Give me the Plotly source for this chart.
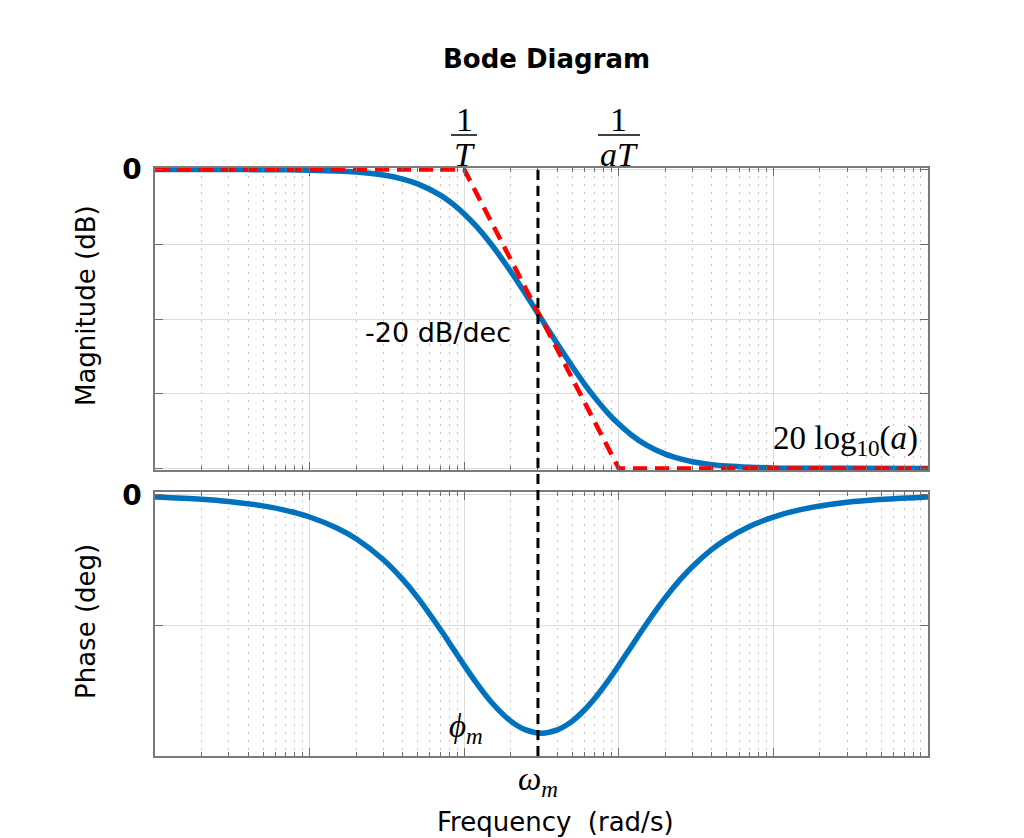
import numpy as np
import plotly.graph_objects as go

# (lag compensator, T = 1, a = 0.1)
freq = [0.01, 0.02, 0.03, 0.05, 0.07, 0.1, 0.15, 0.2, 0.3, 0.4, 0.5, 0.7, 0.85,
        1, 1.2, 1.5, 2, 2.5, 3.16, 4, 5, 6, 7, 8.5, 10, 12, 15, 20, 25, 30, 40,
        50, 70, 100, 150, 300, 1000]
mag_db = [0.0, -0.002, -0.004, -0.011, -0.021, -0.043, -0.096, -0.17, -0.37,
          -0.64, -0.96, -1.71, -2.33, -2.97, -3.81, -5.02, -6.82, -8.34, -10.0,
          -11.66, -13.18, -14.35, -15.26, -16.29, -17.03, -17.74, -18.42, -19.04,
          -19.36, -19.55, -19.74, -19.83, -19.91, -19.96, -19.98, -19.99, -20.0]
phase_deg = [-0.52, -1.03, -1.55, -2.58, -3.6, -5.14, -7.67, -10.16, -14.98,
             -19.51, -23.7, -30.99, -35.5, -39.29, -43.35, -47.78, -52.13, -54.16,
             -54.9, -54.16, -52.13, -49.58, -46.88, -42.93, -39.29, -35.05, -29.88,
             -23.71, -19.51, -16.52, -12.61, -10.16, -7.31, -5.14, -3.43, -1.72,
             -0.52]

asym_freq = [0.01, 1, 10, 1000]
asym_db = [0, 0, -20, -20]

w_m = 3.0
corner_T = 1
corner_aT = 10

mag_ticks = [0, -5, -10, -15, -20]
phase_ticks = [0, -30, -60]

blue = '#0072BD'
W, H = 1024, 838
L, R, TOP, BOT = 155, 96, 168, 82


def py(p):
    # pixel row -> paper y
    return (H - BOT - p) / (H - TOP - BOT)


def px(p):
    return (p - L) / (W - L - R)


fig = go.Figure()
fig.add_trace(go.Scatter(x=freq, y=mag_db, mode='lines', line_shape='spline',
                         line=dict(color=blue, width=5.5), xaxis='x', yaxis='y'))
fig.add_trace(go.Scatter(x=asym_freq, y=asym_db, mode='lines',
                         line=dict(color='#FF0000', width=4.5, dash='14px,8px'),
                         xaxis='x', yaxis='y'))
fig.add_trace(go.Scatter(x=freq, y=phase_deg, mode='lines', line_shape='spline',
                         line=dict(color=blue, width=5.5), xaxis='x2', yaxis='y2'))

xcommon = dict(type='log', range=[-2, 3], dtick=1, tick0=0, showticklabels=False,
               ticks='inside', ticklen=8, tickcolor='#6e6e6e',
               showline=True, linecolor='#7a7a7a', linewidth=1.5, mirror='ticks',
               showgrid=True, gridcolor='#dcdcdc', gridwidth=1, zeroline=False,
               minor=dict(dtick='D1', ticks='inside', ticklen=4, tickcolor='#6e6e6e',
                          showgrid=True, gridcolor='#c4c4c4', griddash='2px,6px',
                          gridwidth=1))
ycommon = dict(tickmode='array', ticks='inside', ticklen=8, tickcolor='#6e6e6e',
               showline=True, linecolor='#7a7a7a', linewidth=1.5, mirror='ticks',
               showgrid=True, gridcolor='#dcdcdc', gridwidth=1, zeroline=False,
               ticklabelstandoff=6,
               tickfont=dict(family='DejaVu Sans', size=28, color='black'))

top_dom = [py(470), 1]
bot_dom = [0, py(492)]

fig.update_layout(
    width=W, height=H, showlegend=False,
    margin=dict(l=L, r=R, t=TOP, b=BOT),
    paper_bgcolor='white', plot_bgcolor='white',
    xaxis=dict(xcommon, anchor='y'),
    xaxis2=dict(xcommon, anchor='y2'),
    yaxis=dict(ycommon, domain=top_dom, range=[-20.1, 0.1], tickvals=mag_ticks,
               ticktext=['<b>0</b>'] + [' '] * (len(mag_ticks) - 1)),
    yaxis2=dict(ycommon, domain=bot_dom, range=[-60.16, 0.62], tickvals=phase_ticks,
                ticktext=['<b>0</b>'] + [' '] * (len(phase_ticks) - 1)),
)

# vertical line at the frequency of max phase lag (shape x takes raw value here)
fig.add_shape(type='line', xref='x', yref='paper', x0=w_m, x1=w_m,
              y0=0, y1=1, line=dict(color='black', width=3, dash='10px,6px'))

sans = dict(family='DejaVu Sans', color='black')
serif = dict(family='Liberation Serif', color='black')


def note(text, x, y, font, size, xref='paper', angle=0):
    fig.add_annotation(text=text, x=x, y=y, xref=xref, yref='paper', showarrow=False,
                       font=dict(font, size=size), textangle=angle,
                       xanchor='center', yanchor='middle')


note('<b>Bode Diagram</b>', px(546), py(59), sans, 26)
note('Magnitude (dB)', px(86), py(306), sans, 26, angle=-90)
note('Phase (deg)', px(86), py(622), sans, 26, angle=-90)
note('Frequency&nbsp;&nbsp;(rad/s)', px(555), py(822), sans, 26)
note('-20 dB/dec', px(438), py(332), sans, 27)

# fractions 1/T and 1/aT above the plot
for cf, den, half in [(corner_T, '<i>T</i>', 13), (corner_aT, '<i>aT</i>', 21)]:
    note('1', np.log10(cf), py(120), serif, 34, xref='x')
    note(den, np.log10(cf), py(154), serif, 34, xref='x')
    fig.add_shape(type='line', xref='paper', yref='paper',
                  x0=px(464 + 155 * np.log10(cf)) - half / 773,
                  x1=px(464 + 155 * np.log10(cf)) + half / 773,
                  y0=py(135), y1=py(135), line=dict(color='black', width=1.5))

note('20 log<sub>10</sub>(<i>a</i>)', px(845), py(440), serif, 33)
note('<i>ϕ</i><sub><i>m</i></sub>', px(466), py(728), serif, 33)
note('<i>ω</i><sub><i>m</i></sub>', np.log10(w_m), py(781), serif, 33, xref='x')

fig.write_html("out.html", config={'displayModeBar': False},
               post_script="document.body.style.margin='0';")
